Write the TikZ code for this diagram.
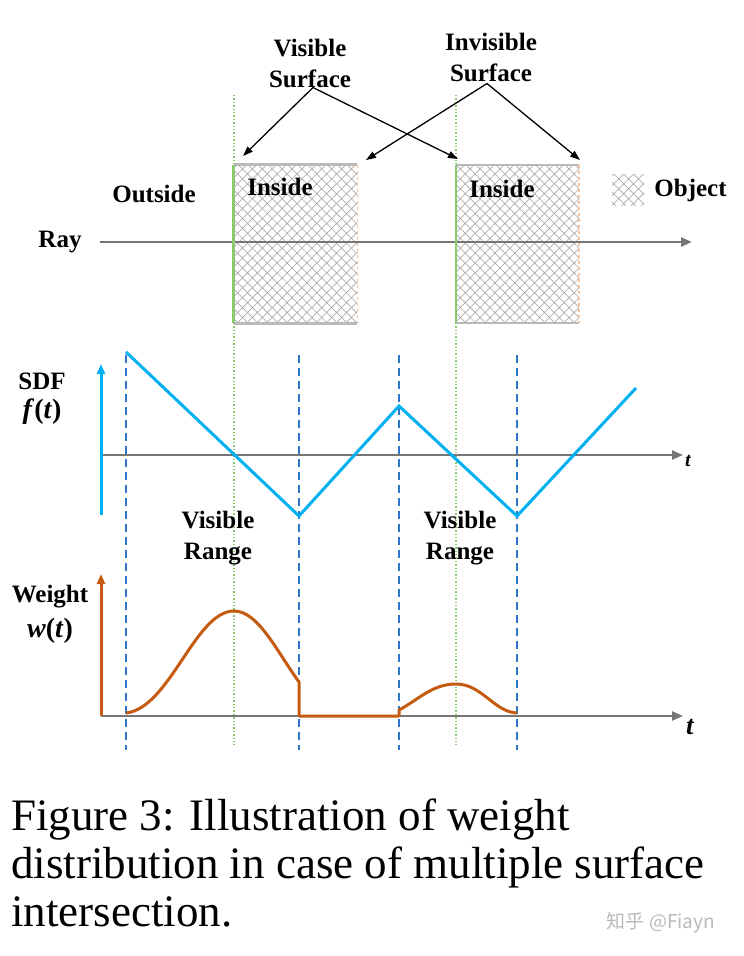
\documentclass[tikz,border=0pt]{standalone}
\usepackage{fontspec}
\setmainfont{Liberation Serif}
\newfontfamily\cjk{Noto Sans CJK SC}
\usetikzlibrary{arrows.meta,patterns.meta,positioning}
\definecolor{sdfblue}{RGB}{0,176,240}
\definecolor{wtorange}{RGB}{197,90,17}
\definecolor{axisgray}{RGB}{118,118,118}
\definecolor{surfgreen}{RGB}{140,200,110}
\definecolor{rangeblue}{RGB}{46,117,200}
\definecolor{backpink}{RGB}{244,177,131}
\newcommand{\bi}[1]{\textbf{\textit{#1}}}
\tikzset{
  lbl/.style={font=\fontsize{25}{31}\selectfont\bfseries, align=center, inner sep=0pt},
  axis/.style={axisgray, line width=2.6pt, -{Triangle[length=11pt,width=9pt]}},
  obj/.style={pattern={Hatch[angle=45,distance=7pt,line width=.7pt]}, pattern color=gray!65, draw=none, inner sep=0pt},
  pointer/.style={black, line width=1.3pt, -{Triangle[length=10pt,width=7pt]}},
  captxt/.style={font=\fontsize{45}{48}\selectfont, anchor=base west, inner sep=0pt}
}
\begin{document}
\begin{tikzpicture}[x=1pt, y=-1pt]
   \useasboundingbox (0,0) rectangle (744,956);
   % surfaces and ranges
   \foreach \sx in {234,456}
     \draw[surfgreen, dotted, line width=1.4pt] (\sx,95) -- (\sx,745);
   \foreach \rx in {126,299,399,517}
     \draw[rangeblue, dashed, dash pattern=on 8pt off 5pt, line width=1.4pt] (\rx,355) -- (\rx,750);

   % ray with objects
   \node (box1) [obj, minimum width=123pt, minimum height=158pt] at (295.5,244) {};
   \node (box2) [obj, minimum width=123pt, minimum height=158pt] at (517.5,244) {};
   \coordinate (r0) at (100,242);
   \coordinate (r1) at (692,242);
   \draw[axis] (r0) -- (r1);
   \foreach \b in {box1,box2} {
     \draw[gray!55, line width=2.5pt] (\b.north west) -- (\b.north east)
                                      (\b.south west) -- (\b.south east);
     \draw[surfgreen, line width=2.5pt] (\b.north west) -- (\b.south west);
     \draw[backpink!80, dashed, line width=1.5pt] (\b.north east) -- (\b.south east);
   }
   \node (ray)  [lbl] at (60,242) {Ray};
   \node (out)  [lbl] at (154,194) {Outside};
   \node (in1)  [lbl] at (280,187) {Inside};
   \node (in2)  [lbl] at (502,189) {Inside};
   \node (swatch) [obj, minimum width=32pt, minimum height=31pt] at (628,190) {};
   \node (objlbl) [lbl, right=10pt of swatch] {Object};

   \node (vsurf) [lbl] at (310,63) {Visible\\Surface};
   \node (isurf) [lbl] at (491,57) {Invisible\\Surface};
   \coordinate (v1) at (243,156);
   \coordinate (v2) at (458,159);
   \coordinate (i1) at (366,160);
   \coordinate (i2) at (580,160);
   \draw[pointer] (vsurf.south) ++(3,0) -- (v1);
   \draw[pointer] (vsurf.south) ++(3,0) -- (v2);
   \draw[pointer] (isurf.south) ++(-4,2) -- (i1);
   \draw[pointer] (isurf.south) ++(-4,2) -- (i2);

   % SDF
   \coordinate (s0) at (101,455);
   \coordinate (s1) at (683,455);
   \draw[axis] (s0) -- (s1);
   \draw[sdfblue, line width=3pt, -{Triangle[length=10pt,width=8pt]}] (101,515) -- (101,364);
   \node (sdf) [lbl] at (42,381) {SDF};
   \node (ft)  [lbl, font=\fontsize{28}{31}\selectfont\bfseries] at (42,412) {\bi{f}(\bi{t})};
   \node (st)  [lbl, font=\fontsize{20}{22}\selectfont\bfseries\itshape, right=2pt of s1, yshift=-6pt] {t};
   \draw[sdfblue, line width=3pt, line join=miter]
     (126,352) -- (299,516) -- (399,406) -- (517,516) -- (636,388);
   \node (vr1) [lbl] at (218,538) {Visible\\Range};
   \node (vr2) [lbl] at (460,538) {Visible\\Range};

   % weight
   \coordinate (w0) at (101,716);
   \coordinate (w1) at (683,716);
   \draw[axis] (w0) -- (w1);
   \draw[wtorange, line width=3pt, -{Triangle[length=10pt,width=8pt]}] (w0) -- (101,574);
   \node (wgt) [lbl] at (50,597) {Weight};
   \node (wt)  [lbl, font=\fontsize{28}{31}\selectfont\bfseries] at (50,631) {\bi{w}(\bi{t})};
   \node (bt)  [lbl, font=\fontsize{27}{30}\selectfont\bfseries\itshape, right=3pt of w1, yshift=-11pt] {t};
   \draw[wtorange, line width=3pt, line join=round]
     (126,713) .. controls (170,708) and (195,611) .. (234,611)
               .. controls (258,611) and (276,650) .. (299,682)
     -- (299,716) -- (399,716) -- (399,710)
     .. controls (418,700) and (432,684) .. (456,684)
     .. controls (482,684) and (494,712) .. (517,713);

   % caption
   \node (cap1) [captxt] at (11,830) {Figure 3: Illustration of weight};
   \node (cap2) [captxt] at (11,878) {distribution in case of multiple surface};
   \node (cap3) [captxt] at (11,926) {intersection.};
   \node (mark) [font=\cjk\fontsize{19}{22}\selectfont, text=gray!55, inner sep=0pt] at (661,923) {知乎 @Fiayn};
\end{tikzpicture}
\end{document}
